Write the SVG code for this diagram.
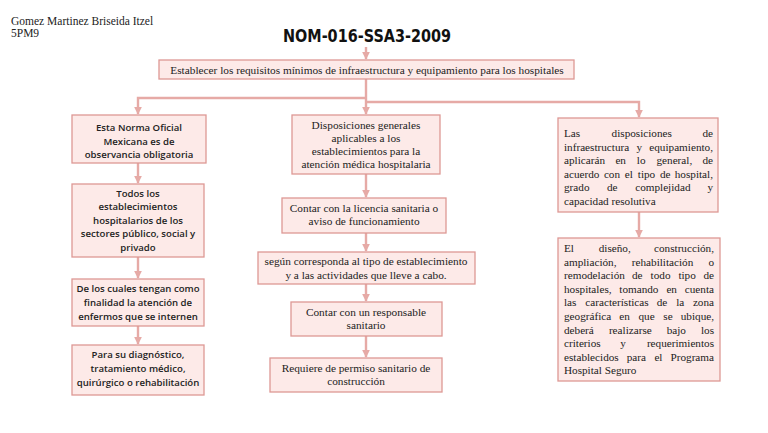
<svg xmlns="http://www.w3.org/2000/svg" width="768" height="433" viewBox="0 0 768 433">
<defs>
<style>
.box{fill:#fdeae8;stroke:#dd9894;stroke-width:1.3}
.con{fill:none;stroke:#e6aaa6;stroke-width:2.4}
.au{font-family:"Liberation Serif",serif;font-size:11.5px;fill:#222}
.sr{font-family:"Liberation Serif",serif;font-size:11.2px;fill:#222}
.sc{font-family:"Liberation Serif",serif;font-size:11.3px;fill:#222;text-anchor:middle}
.se{font-family:"Liberation Serif",serif;font-size:11.2px;fill:#222;text-anchor:end}
.ss{font-family:"Open Sans",sans-serif;font-size:9.6px;font-weight:600;fill:#222;text-anchor:middle}
.title{font-family:"DejaVu Sans",sans-serif;font-size:17px;font-weight:bold;fill:#111;text-anchor:middle}
</style>
<marker id="ah" viewBox="0 0 10 10" refX="9" refY="5" markerWidth="3.2" markerHeight="3.2" orient="auto" markerUnits="strokeWidth">
<path d="M0,0 L10,5 L0,10 z" fill="#e6aaa6"/>
</marker>
</defs>
<rect width="768" height="433" fill="#ffffff"/>

<g id="author">
<text class="au" x="11" y="25">Gomez Martinez Briseida Itzel</text>
<text class="au" x="11" y="37">5PM9</text>
</g>

<g id="title">
<text class="title" x="367" y="42" textLength="168" lengthAdjust="spacingAndGlyphs">NOM-016-SSA3-2009</text>
</g>

<g id="connectors">
<path class="con" d="M366,47 V59" marker-end="url(#ah)"/>
<path class="con" d="M366,79 V114" marker-end="url(#ah)"/>
<path class="con" d="M366,98 H138 V114" marker-end="url(#ah)"/>
<path class="con" d="M366,102 H639 V117" marker-end="url(#ah)"/>
<path class="con" d="M138,163 V183" marker-end="url(#ah)"/>
<path class="con" d="M138,257 V278" marker-end="url(#ah)"/>
<path class="con" d="M138,326 V344" marker-end="url(#ah)"/>
<path class="con" d="M366,174 V197" marker-end="url(#ah)"/>
<path class="con" d="M366,233 V251" marker-end="url(#ah)"/>
<path class="con" d="M366,284 V301" marker-end="url(#ah)"/>
<path class="con" d="M366,336 V357" marker-end="url(#ah)"/>
<path class="con" d="M639,212 V237" marker-end="url(#ah)"/>
</g>

<g id="top">
<rect class="box" x="159" y="60" width="415" height="19"/>
<text class="sc" x="367" y="73.5">Establecer los requisitos mínimos de infraestructura y equipamiento para los hospitales</text>
</g>

<g id="l1">
<rect class="box" x="72" y="115" width="134" height="48"/>
<text class="ss" x="139" y="131">Esta Norma Oficial</text>
<text class="ss" x="139" y="144.5">Mexicana es de</text>
<text class="ss" x="139" y="158">observancia obligatoria</text>
</g>
<g id="l2">
<rect class="box" x="72" y="184" width="132" height="73"/>
<text class="ss" x="138" y="196.5">Todos los</text>
<text class="ss" x="138" y="210">establecimientos</text>
<text class="ss" x="138" y="223.5">hospitalarios de los</text>
<text class="ss" x="138" y="237">sectores público, social y</text>
<text class="ss" x="138" y="250.5">privado</text>
</g>
<g id="l3">
<rect class="box" x="72" y="279" width="132" height="47"/>
<text class="ss" x="138" y="291.5">De los cuales tengan como</text>
<text class="ss" x="138" y="305.5">finalidad la atención de</text>
<text class="ss" x="138" y="319.5">enfermos que se internen</text>
</g>
<g id="l4">
<rect class="box" x="72" y="345" width="132" height="50"/>
<text class="ss" x="138" y="357.5">Para su diagnóstico,</text>
<text class="ss" x="138" y="371.5">tratamiento médico,</text>
<text class="ss" x="138" y="385.5">quirúrgico o rehabilitación</text>
</g>

<g id="m1">
<rect class="box" x="292" y="115" width="148" height="59"/>
<text class="sc" x="366" y="129">Disposiciones generales</text>
<text class="sc" x="366" y="142">aplicables a los</text>
<text class="sc" x="366" y="155">establecimientos para la</text>
<text class="sc" x="366" y="168">atención médica hospitalaria</text>
</g>
<g id="m2">
<rect class="box" x="282" y="198" width="164" height="35"/>
<text class="sc" x="364" y="212">Contar con la licencia sanitaria o</text>
<text class="sc" x="364" y="225">aviso de funcionamiento</text>
</g>
<g id="m3">
<rect class="box" x="258" y="252" width="217" height="32"/>
<text class="sc" x="366" y="265">según corresponda al tipo de establecimiento</text>
<text class="sc" x="366" y="278.5">y a las actividades que lleve a cabo.</text>
</g>
<g id="m4">
<rect class="box" x="291" y="302" width="151" height="34"/>
<text class="sc" x="366" y="315.5">Contar con un responsable</text>
<text class="sc" x="366" y="329">sanitario</text>
</g>
<g id="m5">
<rect class="box" x="270" y="358" width="172" height="34"/>
<text class="sc" x="356" y="371.5">Requiere de permiso sanitario de</text>
<text class="sc" x="356" y="385">construcción</text>
</g>

<g id="r1">
<rect class="box" x="558" y="118" width="160" height="94"/>
<text class="sr" x="564" y="137">Las</text><text class="sr" x="611.6" y="137">disposiciones</text><text class="se" x="713" y="137">de</text>
<text class="sr" x="564" y="150.6">infraestructura</text><text class="sr" x="636.5" y="150.6">y</text><text class="se" x="713" y="150.6">equipamiento,</text>
<text class="sr" x="564" y="164.2">aplicarán</text><text class="sr" x="615.4" y="164.2">en</text><text class="sr" x="636.8" y="164.2">lo</text><text class="sr" x="656.5" y="164.2">general,</text><text class="se" x="713" y="164.2">de</text>
<text class="sr" x="564" y="177.8">acuerdo</text><text class="sr" x="603.9" y="177.8">con</text><text class="sr" x="624.8" y="177.8">el</text><text class="sr" x="637.8" y="177.8">tipo</text><text class="sr" x="659.9" y="177.8">de</text><text class="se" x="713" y="177.8">hospital,</text>
<text class="sr" x="564" y="191.4">grado</text><text class="sr" x="606.9" y="191.4">de</text><text class="sr" x="635.2" y="191.4">complejidad</text><text class="se" x="713" y="191.4">y</text>
<text class="sr" x="564" y="205">capacidad resolutiva</text>
</g>

<g id="r2">
<rect class="box" x="558" y="238" width="162" height="143"/>
<text class="sr" x="564" y="252">El</text><text class="sr" x="598.7" y="252">diseño,</text><text class="se" x="714" y="252">construcción,</text>
<text class="sr" x="564" y="265.6">ampliación,</text><text class="sr" x="631.8" y="265.6">rehabilitación</text><text class="se" x="714" y="265.6">o</text>
<text class="sr" x="564" y="279.2">remodelación</text><text class="sr" x="632" y="279.2">de</text><text class="sr" x="650.6" y="279.2">todo</text><text class="sr" x="678.4" y="279.2">tipo</text><text class="se" x="714" y="279.2">de</text>
<text class="sr" x="564" y="292.8">hospitales,</text><text class="sr" x="619.3" y="292.8">tomando</text><text class="sr" x="666.4" y="292.8">en</text><text class="se" x="714" y="292.8">cuenta</text>
<text class="sr" x="564" y="306.4">las</text><text class="sr" x="585.3" y="306.4">características</text><text class="sr" x="656.7" y="306.4">de</text><text class="sr" x="676.2" y="306.4">la</text><text class="se" x="714" y="306.4">zona</text>
<text class="sr" x="564" y="320">geográfica</text><text class="sr" x="619.3" y="320">en</text><text class="sr" x="638.5" y="320">que</text><text class="sr" x="663.3" y="320">se</text><text class="se" x="714" y="320">ubique,</text>
<text class="sr" x="564" y="333.6">deberá</text><text class="sr" x="608.9" y="333.6">realizarse</text><text class="sr" x="666.7" y="333.6">bajo</text><text class="se" x="714" y="333.6">los</text>
<text class="sr" x="564" y="347.2">criterios</text><text class="sr" x="620.2" y="347.2">y</text><text class="se" x="714" y="347.2">requerimientos</text>
<text class="sr" x="564" y="360.8">establecidos</text><text class="sr" x="626.7" y="360.8">para</text><text class="sr" x="654.4" y="360.8">el</text><text class="se" x="714" y="360.8">Programa</text>
<text class="sr" x="564" y="374.4">Hospital Seguro</text>
</g>
</svg>
